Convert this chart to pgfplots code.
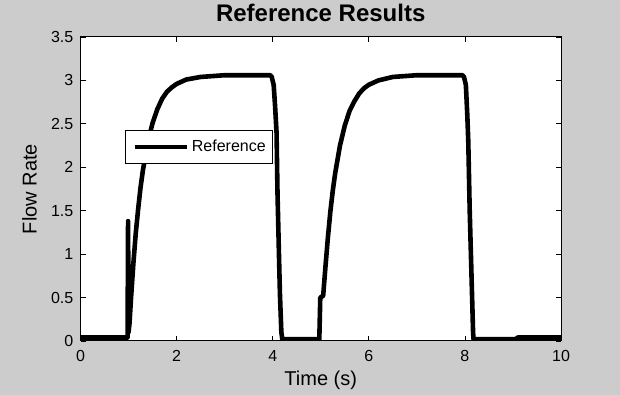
\documentclass[border=0pt]{standalone}
\usepackage{pgfplots}
\pgfplotsset{compat=1.18}
\usepackage{fontspec}
\setmainfont{Liberation Sans}
\definecolor{figbg}{RGB}{204,204,204}
\begin{document}
\begin{tikzpicture}
\fill[figbg] (0,0) rectangle (620pt,395pt);
\begin{axis}[
  at={(80.5pt,54pt)}, anchor=south west,
  scale only axis, width=480.5pt, height=304pt,
  xmin=0, xmax=10, ymin=0, ymax=3.5,
  xtick={0,2,4,6,8,10}, ytick={0,0.5,1,1.5,2,2.5,3,3.5},
  axis background/.style={fill=white},
  axis line style={line width=1pt, black},
  tick align=inside, major tick length=5pt,
  tick style={line width=0.8pt, black},
  /pgf/number format/assume math mode=true,
  ticklabel style={font=\fontsize{16}{18}\selectfont},
  xticklabel style={anchor=center, yshift=-15pt},
  yticklabel style={anchor=east, inner sep=0pt, xshift=-7pt},
  xlabel={Time (s)},
  ylabel={Flow Rate},
  label style={font=\fontsize{20}{22}\selectfont},
  xlabel style={at={(axis description cs:0.5,-0.128)}, anchor=center},
  ylabel style={at={(axis description cs:-0.106,0.5)}, anchor=center},
  title={Reference Results},
  title style={font=\fontsize{24}{27}\selectfont\bfseries, at={(axis description cs:0.5,1.061)}, anchor=center},
  legend style={at={(0.0925,0.694)}, anchor=north west,
    font=\fontsize{16}{18}\selectfont, draw=black, line width=0.8pt,
    inner xsep=7pt, inner ysep=10pt, column sep=3pt,
    nodes={inner xsep=0pt, inner ysep=0pt}},
  legend image code/.code={\draw[#1] (0pt,0pt) -- (52pt,0pt);},
]
\addplot[black, line width=4.6pt, line join=round] coordinates {
(0,0.04) (0.95,0.04) (0.98,0.04) (0.99,1.38) (1.00,0.1)
(1.02,0.205) (1.05,0.48) (1.10,0.89) (1.15,1.24) (1.20,1.52) (1.25,1.77)
(1.30,1.97) (1.40,2.29) (1.50,2.51) (1.60,2.67) (1.70,2.79) (1.80,2.87)
(1.90,2.92) (2.00,2.96) (2.20,3.01) (2.50,3.04) (3.00,3.06) (3.95,3.06)
(3.98,3.04) (4.02,2.95) (4.05,2.7) (4.08,2.4) (4.10,1.7) (4.13,1.0)
(4.15,0.55) (4.18,0.1) (4.20,0.02)
(4.97,0.02) (4.99,0.5) (5.05,0.52) (5.10,0.87) (5.15,1.20) (5.20,1.49)
(5.25,1.73) (5.30,1.93) (5.40,2.25) (5.50,2.48) (5.60,2.65) (5.70,2.76)
(5.80,2.85) (5.90,2.91) (6.00,2.95) (6.20,3.00) (6.50,3.04) (7.00,3.06)
(7.95,3.06) (7.98,3.04) (8.02,2.95) (8.05,2.6) (8.07,2.3) (8.10,1.5)
(8.12,1.1) (8.15,0.5) (8.17,0.1) (8.18,0.02)
(9.05,0.02) (9.10,0.04) (10,0.04)
};
\addlegendentry{Reference}
\end{axis}
\end{tikzpicture}
\end{document}
